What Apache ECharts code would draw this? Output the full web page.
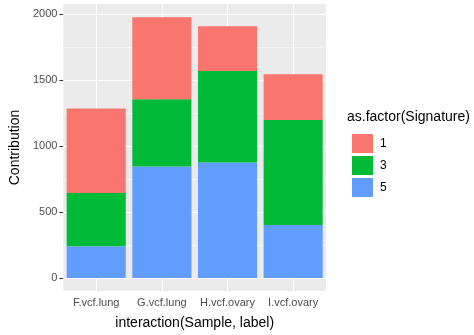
<!DOCTYPE html>
<html><head><meta charset="utf-8">
<script src="https://cdn.jsdelivr.net/npm/echarts@6/dist/echarts.min.js"></script>
<style>html,body{margin:0;padding:0;background:#fff}#c{width:474px;height:335px}</style>
</head><body><div id="c"></div>
<script>
const categories = ['F.vcf.lung','G.vcf.lung','H.vcf.ovary','I.vcf.ovary'];
const sig5 = [240, 845, 875, 401];
const sig3 = [404, 508, 692, 795];
const sig1 = [640, 622, 339, 346];
const yTicks = [0, 500, 1000, 1500, 2000];
const yMinor = [250, 750, 1250, 1750];
const legendNames = ['1','3','5'];

const font = '"Liberation Sans", Arial, sans-serif';
const chart = echarts.init(document.getElementById('c'), null, {renderer:'canvas'});
const gridLines = [];
yTicks.forEach(v => gridLines.push({yAxis: v, lineStyle:{color:'#fff', width:1.1, type:'solid'}}));
yMinor.forEach(v => gridLines.push({yAxis: v, lineStyle:{color:'#fff', width:0.5, type:'solid'}}));
categories.forEach(c => gridLines.push({xAxis: c, lineStyle:{color:'#fff', width:1.1, type:'solid'}}));

chart.setOption({
  animation:false,
  backgroundColor:'#fff',
  grid:{left:52, right:148, top:4, bottom:39, show:true, backgroundColor:'#EBEBEB', borderWidth:0},
  xAxis:{type:'category', data:categories,
    axisLine:{show:false},
    axisTick:{show:true, alignWithLabel:true, length:4, lineStyle:{color:'#333', width:1}},
    axisLabel:{color:'#4D4D4D', fontSize:11, fontFamily:font, margin:6, interval:0},
    splitLine:{show:false},
    name:'interaction(Sample, label)', nameLocation:'middle', nameGap:25,
    nameTextStyle:{color:'#000', fontSize:14, fontFamily:font}},
  yAxis:{type:'value', min:-99, max:2075,
    axisLine:{show:false},
    axisTick:{show:true, length:4, customValues:yTicks, lineStyle:{color:'#333', width:1}},
    axisLabel:{color:'#4D4D4D', fontSize:11, fontFamily:font, margin:6, customValues:yTicks,
      formatter: v => String(v)},
    splitLine:{show:false},
    name:'Contribution', nameLocation:'middle', nameGap:34,
    nameTextStyle:{color:'#000', fontSize:14, fontFamily:font}},
  legend:{data:legendNames, orient:'vertical', left:347, top:129, itemWidth:21, itemHeight:19, itemGap:3,
    icon:'rect', textStyle:{color:'#000', fontSize:12, fontFamily:font, padding:[0,0,0,2]}},
  graphic:[{type:'text', left:347, top:110, style:{text:'as.factor(Signature)', fill:'#000', fontSize:14, fontFamily:font}}],
  series:[
    {type:'line', data:[], silent:true, z:1,
     markLine:{silent:true, z:1, symbol:'none', label:{show:false}, data:gridLines, animation:false}},
    {name:'5', type:'bar', stack:'s', data:sig5, barWidth:'90%', itemStyle:{color:'#619CFF'}, z:3},
    {name:'3', type:'bar', stack:'s', data:sig3, barWidth:'90%', itemStyle:{color:'#00BA38'}, z:3},
    {name:'1', type:'bar', stack:'s', data:sig1, barWidth:'90%', itemStyle:{color:'#F8766D'}, z:3}
  ]
});
</script></body></html>
